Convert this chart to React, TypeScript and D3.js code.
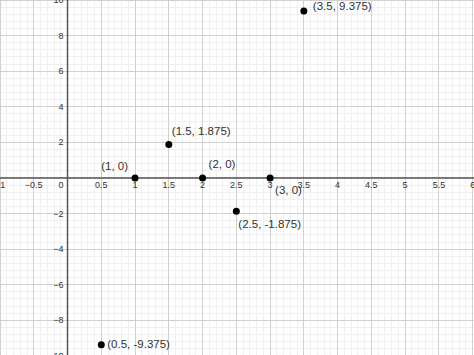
import React from "react";
import * as d3 from "d3";

const W = 474;
const H = 355;

const pointX = [1, 1.5, 2, 2.5, 3, 3.5, 0.5];
const pointY = [0, 1.875, 0, -1.875, 0, 9.375, -9.375];
const pointLabels = ["(1, 0)", "(1.5, 1.875)", "(2, 0)", "(2.5, -1.875)", "(3, 0)", "(3.5, 9.375)", "(0.5, -9.375)"];
// label placement: dx, dy, anchor
const labelPos: [number, number, string][] = [
  [-7, -8, "end"],
  [3, -10, "start"],
  [6, -10, "start"],
  [2, 17, "start"],
  [5, 16, "start"],
  [9, -1, "start"],
  [6, 3, "start"],
];

const xMajorTicks = [-1, -0.5, 0, 0.5, 1, 1.5, 2, 2.5, 3, 3.5, 4, 4.5, 5, 5.5, 6];
const yMajorTicks = [-10, -8, -6, -4, -2, 0, 2, 4, 6, 8, 10];

export default function App() {
  const x = d3.scaleLinear().domain([-1, 6.02]).range([0, W]);
  const y = d3.scaleLinear().domain([10, -9.95]).range([0, H]);

  const xMinor = d3.range(-10, 61).map((i) => i / 10);
  const yMinor = d3.range(-25, 26).map((i) => (i * 2) / 5);
  const fmt = (v: number) => (v < 0 ? "\u2212" + Math.abs(v) : String(v));
  const x0 = x(0);
  const y0 = y(0);

  return (
    <svg width={W} height={H} style={{ position: "absolute", left: 0, top: 0, background: "#fff" }}>
      <g shapeRendering="crispEdges">
        {xMinor.map((v, i) => (
          <line key={"xm" + i} x1={x(v)} x2={x(v)} y1={0} y2={H} stroke="#f0f0f0" strokeWidth={1} />
        ))}
        {yMinor.map((v, i) => (
          <line key={"ym" + i} x1={0} x2={W} y1={y(v)} y2={y(v)} stroke="#f0f0f0" strokeWidth={1} />
        ))}
        {xMajorTicks.map((v, i) => (
          <line key={"xM" + i} x1={x(v)} x2={x(v)} y1={0} y2={H} stroke="#d0d0d0" strokeWidth={1} />
        ))}
        {yMajorTicks.map((v, i) => (
          <line key={"yM" + i} x1={0} x2={W} y1={y(v)} y2={y(v)} stroke="#d0d0d0" strokeWidth={1} />
        ))}
      </g>
      <line x1={x0} x2={x0} y1={0} y2={H} stroke="#555" strokeWidth={1.5} />
      <line x1={0} x2={W} y1={y0} y2={y0} stroke="#555" strokeWidth={1.5} />
      <g fontFamily="Arial, 'Liberation Sans', sans-serif" fontSize={9} fill="#333">
        {xMajorTicks.map((v, i) =>
          v === 0 ? (
            <text key={"xt" + i} x={x0 - 4} y={y0 + 10} textAnchor="end">0</text>
          ) : (
            <text key={"xt" + i} x={x(v)} y={y0 + 10} textAnchor="middle">{fmt(v)}</text>
          )
        )}
        {yMajorTicks
          .filter((v) => v !== 0)
          .map((v, i) => (
            <text key={"yt" + i} x={x0 - 4} y={y(v) + 3} textAnchor="end">{fmt(v)}</text>
          ))}
      </g>
      <g fontFamily="Arial, 'Liberation Sans', sans-serif" fontSize={11.5} fill="#333">
        {pointX.map((px, i) => (
          <g key={"p" + i}>
            <circle cx={x(px)} cy={y(pointY[i])} r={3.5} fill="#000" />
            <text x={x(px) + labelPos[i][0]} y={y(pointY[i]) + labelPos[i][1]} textAnchor={labelPos[i][2]}>
              {pointLabels[i]}
            </text>
          </g>
        ))}
      </g>
    </svg>
  );
}
